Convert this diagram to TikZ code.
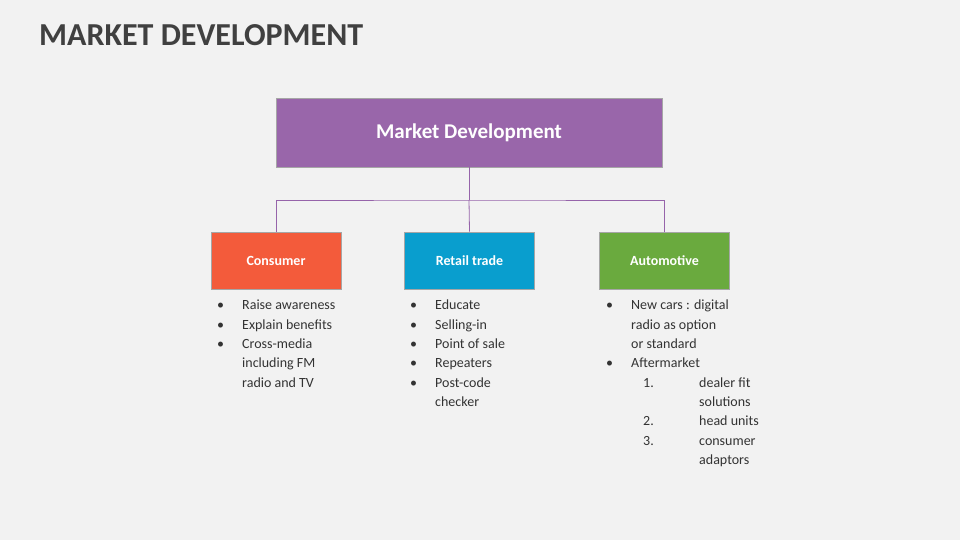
\documentclass[tikz,border=0pt]{standalone}
\usepackage{fontspec}
\setmainfont{Carlito}
\begin{document}
\begin{tikzpicture}[x=1pt,y=-1pt,
  cat/.style={draw=gray!70,line width=0.6pt,minimum width=130pt,minimum height=57pt,text=white,font=\bfseries\fontsize{14}{16}\selectfont,inner sep=0pt},
  conn/.style={draw={rgb,255:red,150;green,100;blue,170},line width=0.8pt},
  txt/.style={anchor=north west,inner sep=0pt,text=black!80,font=\fontsize{14}{19.3}\selectfont,align=left}]
\definecolor{bg}{RGB}{242,242,242}
\definecolor{purp}{RGB}{153,102,170}
\definecolor{orng}{RGB}{243,91,59}
\definecolor{blu}{RGB}{9,158,206}
\definecolor{grn}{RGB}{106,170,62}
\fill[bg] (0,0) rectangle (960,540);
\useasboundingbox (0,0) rectangle (960,540);
\node[anchor=west,inner sep=0pt,text=black!75,font=\bfseries\fontsize{32}{36}\selectfont] (title) at (39,35) {MARKET DEVELOPMENT};
\node[draw=gray!70,fill=purp,minimum width=386pt,minimum height=69pt,inner sep=0pt,text=white,font=\bfseries\fontsize{21}{24}\selectfont] (top) at (469,132.5) {Market Development};
\node[cat,fill=orng] (c1) at (276,260.5) {Consumer};
\node[cat,fill=blu] (c2) at (469.5,260.5) {Retail trade};
\node[cat,fill=grn] (c3) at (664.5,260.5) {Automotive};
\coordinate (j) at (469,200);
\draw[conn] (top.south) -- (j);
\draw[conn] (c1.north) |- (j) -| (c3.north);
\draw[conn] (j) -- (c2.north);
\node[txt] (t1) at (217,300) {\makebox[25pt][l]{•}Raise awareness\\\makebox[25pt][l]{•}Explain benefits\\\makebox[25pt][l]{•}Cross-media\\\hspace*{25pt}including FM\\\hspace*{25pt}radio and TV};
\node[txt] (t2) at (410,300) {\makebox[25pt][l]{•}Educate\\\makebox[25pt][l]{•}Selling-in\\\makebox[25pt][l]{•}Point of sale\\\makebox[25pt][l]{•}Repeaters\\\makebox[25pt][l]{•}Post-code\\\hspace*{25pt}checker};
\node[txt] (t3) at (606,300) {\makebox[25pt][l]{•}New cars : digital\\\hspace*{25pt}radio as option\\\hspace*{25pt}or standard\\\makebox[25pt][l]{•}Aftermarket\\\hspace*{37pt}\makebox[56pt][l]{1.}dealer fit\\\hspace*{93pt}solutions\\\hspace*{37pt}\makebox[56pt][l]{2.}head units\\\hspace*{37pt}\makebox[56pt][l]{3.}consumer\\\hspace*{93pt}adaptors};
\end{tikzpicture}
\end{document}
